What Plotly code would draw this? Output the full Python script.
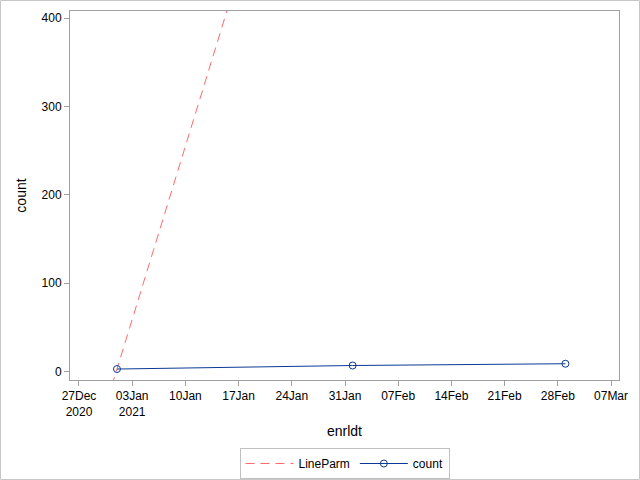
import plotly.graph_objects as go
import pandas as pd

# data
dates = ["2021-01-01", "2021-02-01", "2021-03-01"]
counts = [3, 7, 9]

# LineParm: line through (anchor date, anchor y) with slope per day
lp_x0 = "2021-01-01"
lp_y0 = 3
lp_slope = 28.0  # count per day
lp_span_days = [-3, 20]

tick_dates = ["2020-12-27", "2021-01-03", "2021-01-10", "2021-01-17", "2021-01-24",
              "2021-01-31", "2021-02-07", "2021-02-14", "2021-02-21", "2021-02-28", "2021-03-07"]
tick_text = ["27Dec<br>2020", "03Jan<br>2021", "10Jan", "17Jan", "24Jan",
             "31Jan", "07Feb", "14Feb", "21Feb", "28Feb", "07Mar"]
y_ticks = [0, 100, 200, 300, 400]

x0 = pd.Timestamp(lp_x0)
lp_x = [x0 + pd.Timedelta(days=d) for d in lp_span_days]
lp_y = [lp_y0 + lp_slope * d for d in lp_span_days]

W, H = 640, 480
ml, mr, mt, mb = 70, 21, 11, 100
pw, ph = W - ml - mr, H - mt - mb

fig = go.Figure()
fig.add_trace(go.Scatter(x=lp_x, y=lp_y, mode="lines", name="LineParm",
                         line=dict(color="#FF6A6A", width=1, dash="9px,6px")))
fig.add_trace(go.Scatter(x=pd.to_datetime(dates), y=counts, mode="lines+markers", name="count",
                         line=dict(color="#0B3A96", width=1),
                         marker=dict(symbol="circle-open", size=7, color="#0B3A96", line=dict(width=1))))

grey = "#A0A0A0"
fig.update_layout(
    width=W, height=H,
    margin=dict(l=ml, r=mr, t=mt, b=mb, autoexpand=False),
    paper_bgcolor="white", plot_bgcolor="white",
    font=dict(family="Liberation Sans, Arial, sans-serif", size=12, color="#000000"),
    showlegend=True,
    legend=dict(orientation="h", x=0.5, xanchor="center", y=(380 - 448) / ph, yanchor="top",
                bordercolor="#C0C0C0", borderwidth=1, font=dict(size=12),
                itemwidth=48, tracegroupgap=0),
    xaxis=dict(type="date", range=["2020-12-25 19:40", "2021-03-08 01:10"],
               tickvals=tick_dates, ticktext=tick_text, tickangle=0, automargin=False,
               ticks="outside", ticklen=5, tickcolor=grey, showgrid=False, zeroline=False,
               showline=True, linecolor=grey, linewidth=1, mirror=True,
               title=dict(text="enrldt", standoff=8)),
    yaxis=dict(range=[-9.4, 408], tickvals=y_ticks, automargin=False,
               ticks="outside", ticklen=5, tickcolor=grey, showgrid=False, zeroline=False,
               showline=True, linecolor=grey, linewidth=1, mirror=True,
               title=dict(text="count", standoff=11)),
    shapes=[dict(type="rect", xref="paper", yref="paper",
                 x0=(0.5 - ml) / pw, x1=(W - 0.5 - ml) / pw,
                 y0=-(mb - 0.5) / ph, y1=1 + (mt - 0.5) / ph,
                 line=dict(color="#C8C8C8", width=1), layer="below")],
)

fig.write_html("out.html", config={"displayModeBar": False},
               post_script="document.body.style.margin='0';document.body.style.padding='0';")
